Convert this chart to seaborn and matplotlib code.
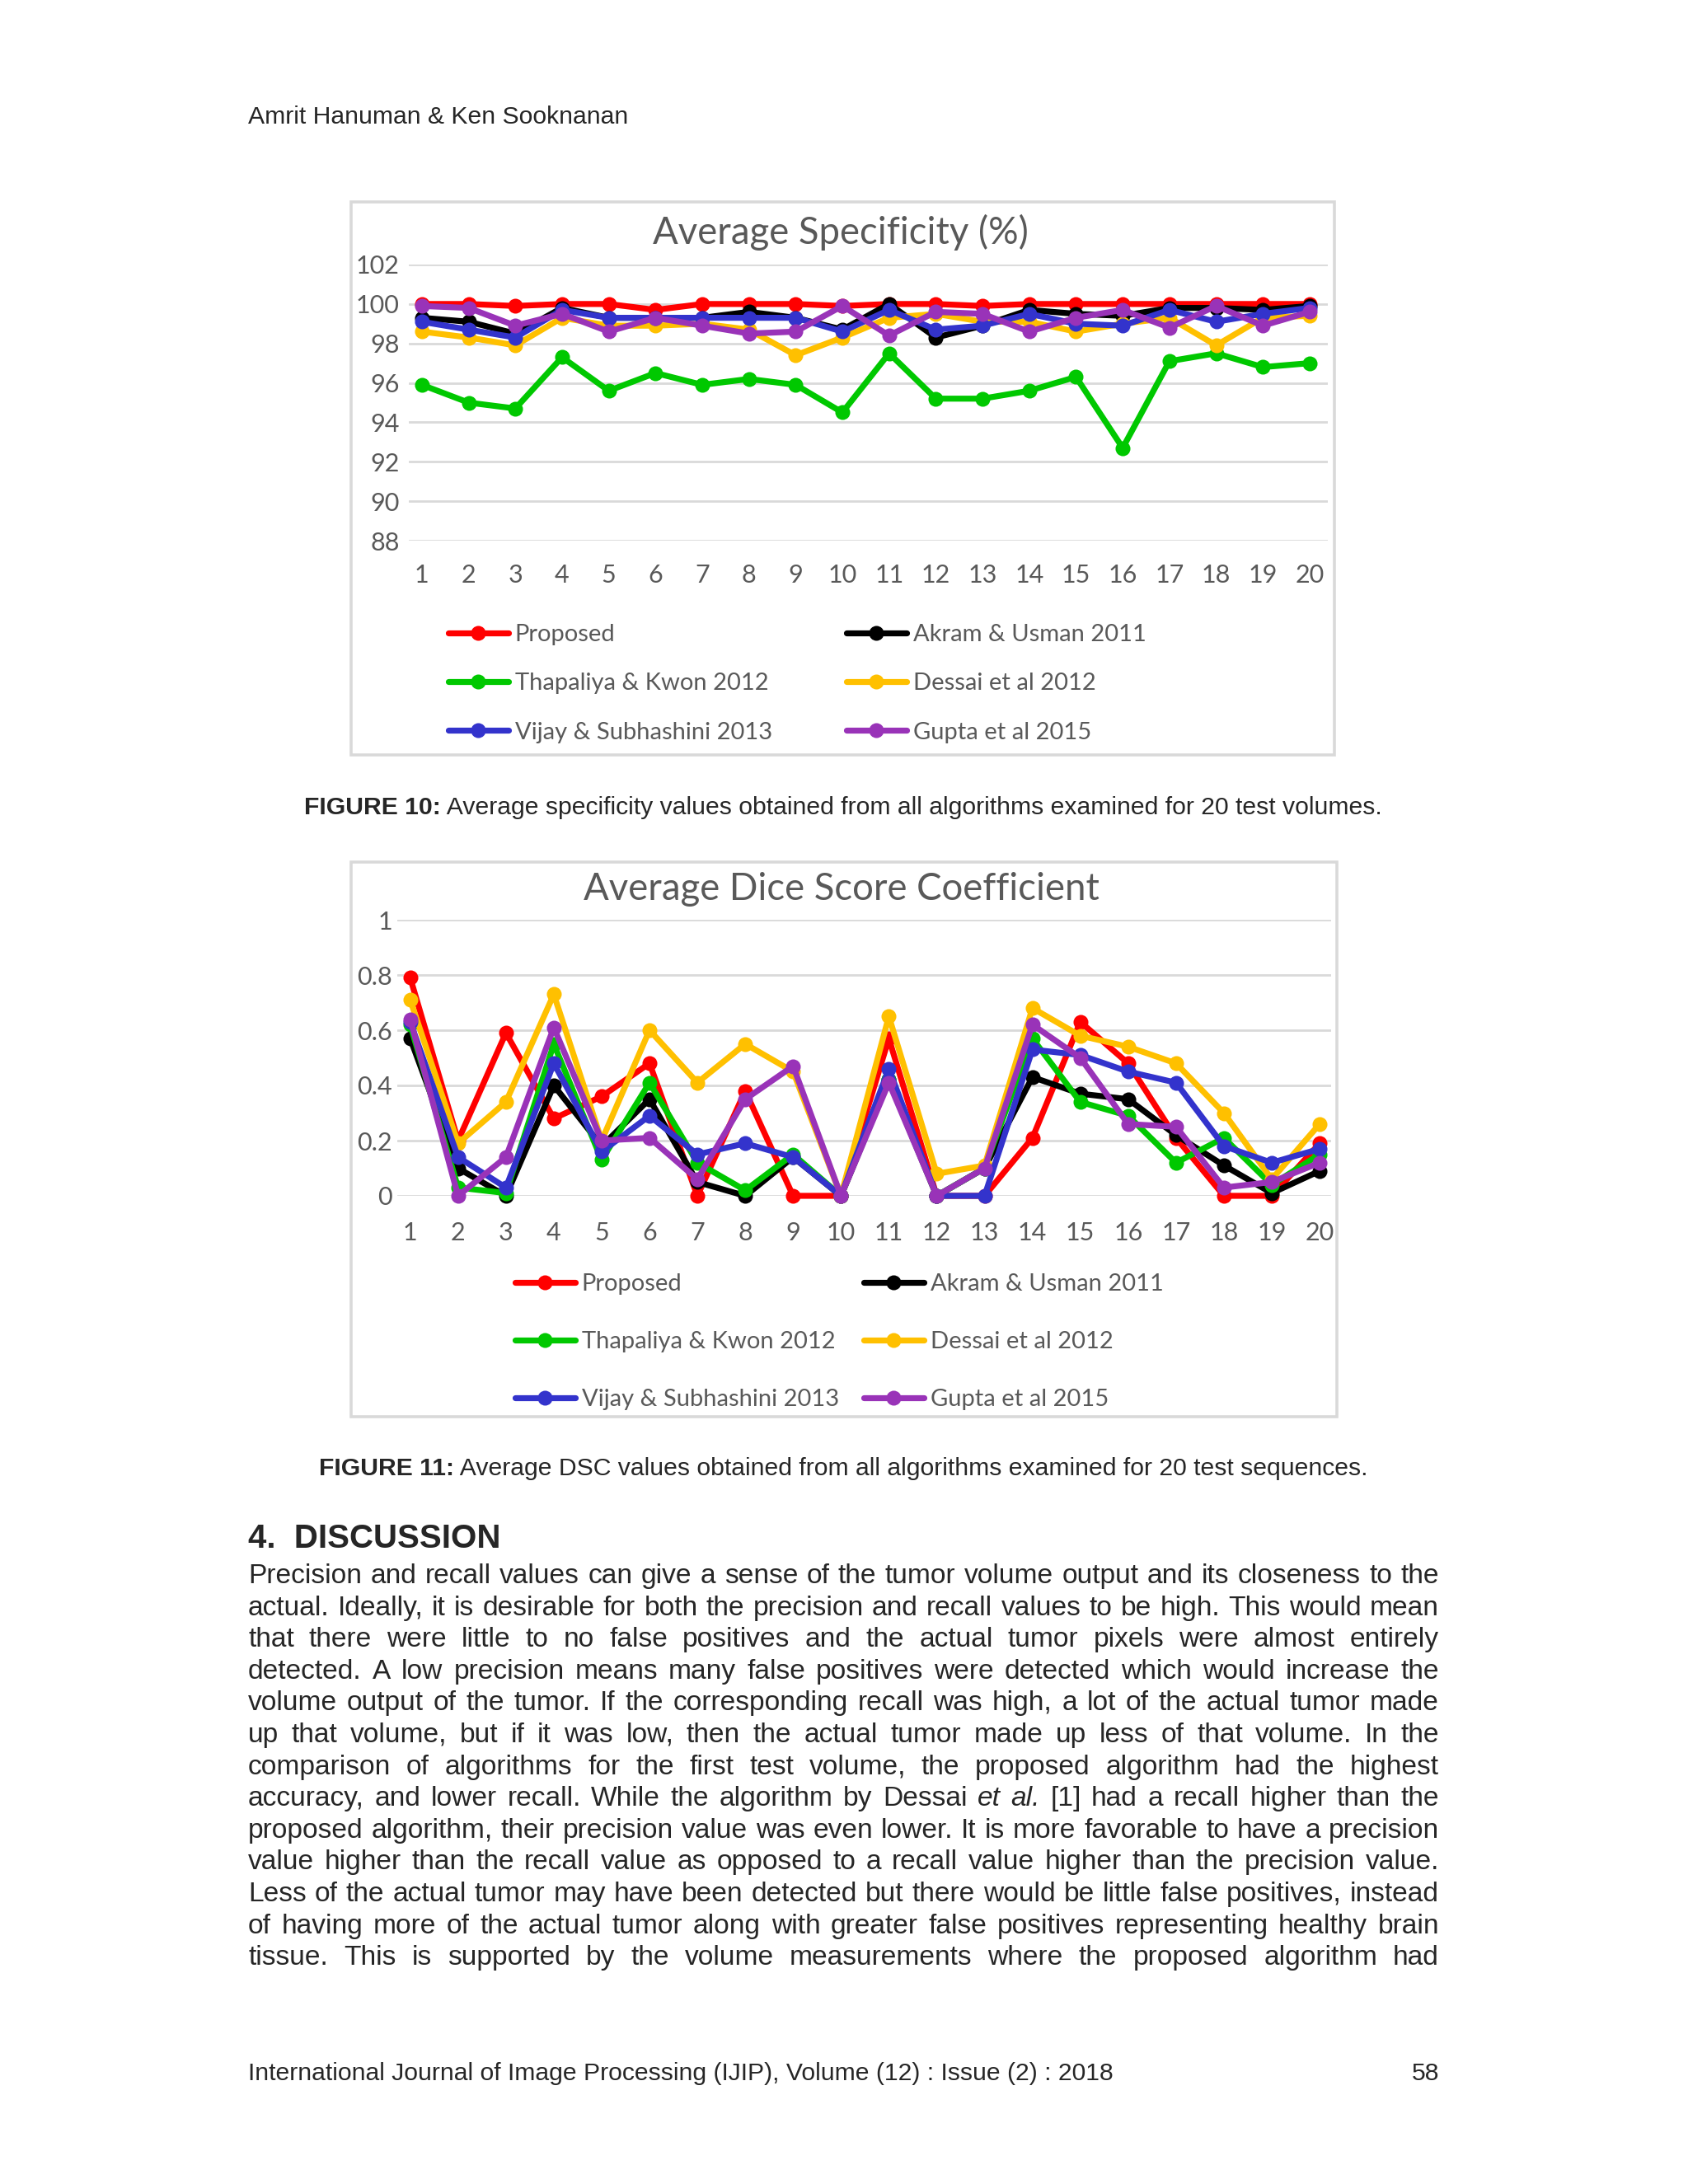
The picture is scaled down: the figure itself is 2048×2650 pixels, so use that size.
import matplotlib
matplotlib.use("Agg")
import matplotlib.pyplot as plt
from matplotlib.lines import Line2D
from matplotlib.patches import Rectangle
import pandas as pd
import seaborn as sns

# page geometry (pixels of the final image)
W, H = 2048, 2650
DPI = 200

# ---------------- data ----------------
volumes = list(range(1, 21))
methods = ["Proposed", "Akram & Usman 2011", "Thapaliya & Kwon 2012",
           "Dessai et al 2012", "Vijay & Subhashini 2013", "Gupta et al 2015"]
colors = ["#FF0000", "#000000", "#00C800", "#FFC000", "#3333CC", "#9933B8"]

# Figure 10 - average specificity (%)
spec_proposed = [100, 100, 99.9, 100, 100, 99.7, 100, 100, 100, 99.9,
                 100, 100, 99.9, 100, 100, 100, 100, 100, 100, 100]
spec_akram = [99.3, 99.1, 98.5, 99.8, 99.3, 99.3, 99.3, 99.6, 99.3, 98.7,
              100, 98.3, 98.9, 99.7, 99.5, 99.4, 99.8, 99.8, 99.7, 99.9]
spec_thapaliya = [95.9, 95.0, 94.7, 97.3, 95.6, 96.5, 95.9, 96.2, 95.9, 94.5,
                  97.5, 95.2, 95.2, 95.6, 96.3, 92.7, 97.1, 97.5, 96.8, 97.0]
spec_dessai = [98.6, 98.3, 97.9, 99.3, 98.9, 98.9, 99.0, 98.7, 97.4, 98.3,
               99.3, 99.5, 99.1, 99.1, 98.6, 99.0, 99.3, 97.9, 99.3, 99.4]
spec_vijay = [99.1, 98.7, 98.3, 99.7, 99.3, 99.3, 99.3, 99.3, 99.3, 98.6,
              99.7, 98.7, 98.9, 99.5, 99.0, 98.9, 99.7, 99.1, 99.5, 99.8]
spec_gupta = [99.9, 99.8, 98.9, 99.5, 98.6, 99.3, 98.9, 98.5, 98.6, 99.9,
              98.4, 99.6, 99.5, 98.6, 99.3, 99.7, 98.8, 99.9, 98.9, 99.6]

# Figure 11 - average dice score coefficient
dsc_proposed = [0.79, 0.20, 0.59, 0.28, 0.36, 0.48, 0.0, 0.38, 0.0, 0.0,
                0.57, 0.0, 0.0, 0.21, 0.63, 0.48, 0.21, 0.0, 0.0, 0.19]
dsc_akram = [0.57, 0.10, 0.0, 0.40, 0.18, 0.35, 0.05, 0.0, 0.14, 0.0,
             0.42, 0.0, 0.10, 0.43, 0.37, 0.35, 0.22, 0.11, 0.01, 0.09]
dsc_thapaliya = [0.62, 0.03, 0.01, 0.55, 0.13, 0.41, 0.12, 0.02, 0.15, 0.0,
                 0.42, 0.0, 0.10, 0.57, 0.34, 0.29, 0.12, 0.21, 0.04, 0.15]
dsc_dessai = [0.71, 0.19, 0.34, 0.73, 0.20, 0.60, 0.41, 0.55, 0.45, 0.0,
              0.65, 0.08, 0.11, 0.68, 0.58, 0.54, 0.48, 0.30, 0.06, 0.26]
dsc_vijay = [0.63, 0.14, 0.03, 0.48, 0.16, 0.29, 0.15, 0.19, 0.14, 0.0,
             0.46, 0.0, 0.0, 0.53, 0.51, 0.45, 0.41, 0.18, 0.12, 0.17]
dsc_gupta = [0.64, 0.0, 0.14, 0.61, 0.20, 0.21, 0.06, 0.35, 0.47, 0.0,
             0.41, 0.0, 0.10, 0.62, 0.50, 0.26, 0.25, 0.03, 0.05, 0.12]

spec_yticks = [88, 90, 92, 94, 96, 98, 100, 102]
dsc_yticks = [0, 0.2, 0.4, 0.6, 0.8, 1]
dsc_yticklabels = ["0", "0.2", "0.4", "0.6", "0.8", "1"]

header = "Amrit Hanuman & Ken Sooknanan"
footer = "International Journal of Image Processing (IJIP), Volume (12) : Issue (2) : 2018"
page_no = "58"
caption10 = ("FIGURE 10:", " Average specificity values obtained from all algorithms examined for 20 test volumes.")
caption11 = ("FIGURE 11:", " Average DSC values obtained from all algorithms examined for 20 test sequences.")
section = "4.  DISCUSSION"
body_lines = [
    "Precision and recall values can give a sense of the tumor volume output and its closeness to the",
    "actual. Ideally, it is desirable for both the precision and recall values to be high. This would mean",
    "that there were little to no false positives and the actual tumor pixels were almost entirely",
    "detected. A low precision means many false positives were detected which would increase the",
    "volume output of the tumor. If the corresponding recall was high, a lot of the actual tumor made",
    "up that volume, but if it was low, then the actual tumor made up less of that volume. In the",
    "comparison of algorithms for the first test volume, the proposed algorithm had the highest",
    "accuracy, and lower recall. While the algorithm by Dessai et al. [1] had a recall higher than the",
    "proposed algorithm, their precision value was even lower. It is more favorable to have a precision",
    "value higher than the recall value as opposed to a recall value higher than the precision value.",
    "Less of the actual tumor may have been detected but there would be little false positives, instead",
    "of having more of the actual tumor along with greater false positives representing healthy brain",
    "tissue. This is supported by the volume measurements where the proposed algorithm had",
]

# ---------------- style ----------------
sns.set_style("white")
plt.rcParams["font.family"] = ["Liberation Sans", "DejaVu Sans"]

CHART_FONT = ["Lato", "DejaVu Sans"]
GREY = "#595959"
GRID = "#D9D9D9"
BODY_FS = 12.05     # running text
SMALL_FS = 10.85    # header, captions, footer
LEG_FS = 10.5
TEXT_LEFT, TEXT_RIGHT = 301, 1746


def fx(px):
    return px / W


def fy(py):
    return 1 - py / H


def to_long(series):
    rows = []
    for name, vals in zip(methods, series):
        for v, val in zip(volumes, vals):
            rows.append((v, val, name))
    return pd.DataFrame(rows, columns=["volume", "value", "method"])


fig = plt.figure(figsize=(W / DPI, H / DPI), dpi=DPI)
fig.patch.set_facecolor("white")


def draw_chart(series, box, plot, xlim, ylim, yticks, yticklabels, title, title_base,
               xpad, ypad, leg_x, leg_top, leg_spacing):
    # chart frame
    bl, bt, br, bb = box
    fig.add_artist(Rectangle((fx(bl), fy(bb)), (br - bl) / W, (bb - bt) / H,
                             transform=fig.transFigure, fill=False,
                             edgecolor=GRID, lw=1.3))
    l, t, r, b = plot
    ax = fig.add_axes([fx(l), fy(b), (r - l) / W, (b - t) / H])
    df = to_long(series)
    sns.lineplot(data=df, x="volume", y="value", hue="method", hue_order=methods,
                 palette=colors, marker="o", markersize=6.5, markeredgewidth=0,
                 linewidth=2.6, errorbar=None, legend=False, ax=ax, clip_on=False)
    ax.set_xlim(*xlim)
    ax.set_ylim(*ylim)
    ax.set_xticks(volumes)
    ax.set_xticklabels([str(v) for v in volumes], fontsize=11, color=GREY, family=CHART_FONT)
    ax.set_yticks(yticks)
    ax.set_yticklabels(yticklabels, fontsize=11, color=GREY, family=CHART_FONT)
    ax.tick_params(axis="x", length=0, pad=xpad)
    ax.tick_params(axis="y", length=0, pad=ypad)
    ax.set_xlabel("")
    ax.set_ylabel("")
    ax.grid(axis="y", color=GRID, linewidth=1.0)
    ax.grid(axis="x", visible=False)
    ax.set_axisbelow(True)
    for sp in ax.spines.values():
        sp.set_visible(False)
    ax.patch.set_alpha(0)

    fig.text(fx((bl + br) / 2 - 3), fy(title_base), title, ha="center", va="baseline",
             fontsize=16.4, color=GREY, family=CHART_FONT)

    handles = [Line2D([], [], color=c, lw=2.6, marker="o", markersize=6.5,
                      markeredgewidth=0) for c in colors]
    legs = []
    for k, x0 in enumerate(leg_x):
        leg = ax.legend(handles[k::2], methods[k::2], loc="upper left",
                        bbox_to_anchor=(fx(x0), fy(leg_top)), bbox_transform=fig.transFigure,
                        frameon=False, borderpad=0, borderaxespad=0, handlelength=2.5,
                        handletextpad=0.27, labelspacing=leg_spacing,
                        prop={"family": CHART_FONT, "size": LEG_FS}, labelcolor=GREY)
        legs.append(leg)
    ax.add_artist(legs[0])
    return ax


draw_chart([spec_proposed, spec_akram, spec_thapaliya, spec_dessai, spec_vijay, spec_gupta],
           box=(426, 245, 1619, 916), plot=(496, 321, 1611, 656),
           xlim=(0.72, 20.39), ylim=(88, 102), yticks=spec_yticks,
           yticklabels=[str(v) for v in spec_yticks],
           title="Average Specificity (%)", title_base=296,
           xpad=10, ypad=4, leg_x=(544, 1027), leg_top=757, leg_spacing=1.14)

draw_chart([dsc_proposed, dsc_akram, dsc_thapaliya, dsc_dessai, dsc_vijay, dsc_gupta],
           box=(426, 1046, 1622, 1719), plot=(482, 1116, 1615, 1451),
           xlim=(0.73, 20.24), ylim=(0, 1), yticks=dsc_yticks,
           yticklabels=dsc_yticklabels,
           title="Average Dice Score Coefficient", title_base=1092,
           xpad=11, ypad=2.2, leg_x=(625, 1048), leg_top=1545, leg_spacing=1.51)

# ---------------- page text ----------------
renderer = fig.canvas.get_renderer()


def width_of(t):
    return t.get_window_extent(renderer=renderer).width


fig.text(fx(TEXT_LEFT), fy(150), header, fontsize=SMALL_FS, va="baseline", ha="left")


def caption(parts, x0, base):
    bold = fig.text(fx(x0), fy(base), parts[0], fontsize=SMALL_FS, weight="bold",
                    va="baseline", ha="left")
    w = width_of(bold)
    fig.text(fx(x0 + w), fy(base), parts[1], fontsize=SMALL_FS, va="baseline", ha="left")


caption(caption10, 369, 988)
caption(caption11, 387, 1790)

fig.text(fx(TEXT_LEFT), fy(1878), section, fontsize=14.5, weight="bold",
         va="baseline", ha="left")


def justify_line(line, base, italic=()):
    words = line.split(" ")
    items = [fig.text(0, fy(base), w, fontsize=BODY_FS, va="baseline", ha="left",
                      style="italic" if w in italic else "normal") for w in words]
    widths = [width_of(t) for t in items]
    gap = (TEXT_RIGHT - TEXT_LEFT - sum(widths)) / (len(items) - 1)
    x = TEXT_LEFT
    for t, w in zip(items, widths):
        t.set_x(fx(x))
        x += w + gap


for i, line in enumerate(body_lines):
    italic = ("et", "al.") if "Dessai et al." in line else ()
    justify_line(line, 1921 + i * 38.6, italic)

fig.text(fx(TEXT_LEFT), fy(2524), footer, fontsize=SMALL_FS, va="baseline", ha="left")
fig.text(fx(TEXT_RIGHT), fy(2524), page_no, fontsize=SMALL_FS, va="baseline", ha="right")

fig.savefig("out.png", dpi=DPI, facecolor="white")
